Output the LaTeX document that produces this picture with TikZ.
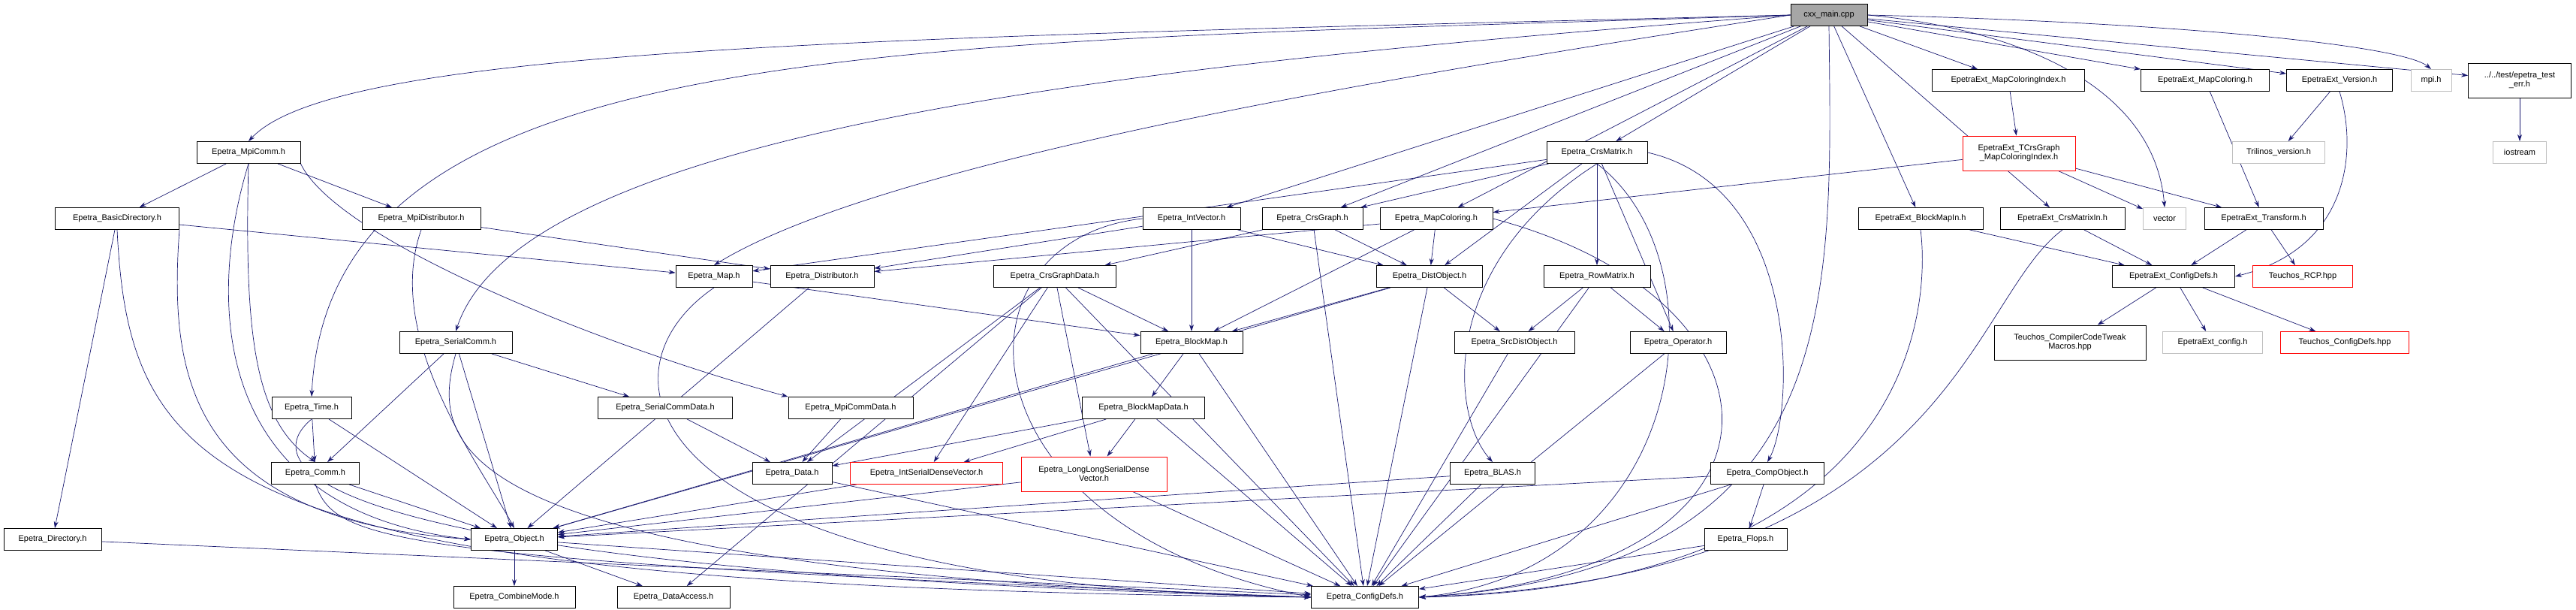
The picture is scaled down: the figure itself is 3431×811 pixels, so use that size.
\documentclass[tikz,border=0pt]{standalone}
\usepackage{fontspec}
\setmainfont{Liberation Sans}
\usetikzlibrary{arrows.meta,backgrounds}
\definecolor{edge}{RGB}{25,25,112}
\definecolor{grayb}{RGB}{191,191,191}
\tikzset{
  box/.style={draw=black,line width=0.9pt,fill=white,inner sep=0pt,minimum height=29pt,font=\fontsize{11}{12}\selectfont,align=center},
  red/.style={box,draw=red},
  ghost/.style={box,draw=grayb},
  root/.style={box,fill=black!35},
  e/.style={draw=edge,line width=0.7pt,-{Stealth[length=9pt,width=6pt]}}
}
\newcommand{\nd}[6][box]{\node[#1,minimum width=#5pt] (#2) at (#3pt,-#4pt) {#6};}
\begin{document}
\begin{tikzpicture}
\useasboundingbox (0,0) rectangle (3431pt,-811pt);
% row 0
\nd[root]{cxx}{2436}{20}{102}{cxx\_main.cpp}
% row 1
\nd{mci}{2675}{107}{203}{EpetraExt\_MapColoringIndex.h}
\nd{emc}{2937}{107}{171}{EpetraExt\_MapColoring.h}
\nd{ver}{3116}{107}{141}{EpetraExt\_Version.h}
\nd[ghost]{mpih}{3238}{107}{54}{mpi.h}
\node[box,minimum width=137pt,minimum height=46pt] (test) at (3356pt,-107pt) {../../test/epetra\_test\\\_err.h};
% row 2
\nd{mpicomm}{331}{203}{138}{Epetra\_MpiComm.h}
\nd{crsm}{2127}{203}{134}{Epetra\_CrsMatrix.h}
\node[red,minimum width=150pt,minimum height=46pt] (tcrs) at (2689pt,-204pt) {EpetraExt\_TCrsGraph\\\_MapColoringIndex.h};
\nd[ghost]{tril}{3035}{203}{123}{Trilinos\_version.h}
\nd[ghost]{ios}{3356}{203}{71}{iostream}
% row 3
\nd{bdir}{156}{291}{165}{Epetra\_BasicDirectory.h}
\nd{mpid}{561}{291}{158}{Epetra\_MpiDistributor.h}
\nd{intv}{1587}{291}{130}{Epetra\_IntVector.h}
\nd{crsg}{1748}{291}{134}{Epetra\_CrsGraph.h}
\nd{mapc}{1913}{291}{150}{Epetra\_MapColoring.h}
\nd{bmin}{2558}{291}{166}{EpetraExt\_BlockMapIn.h}
\nd{cmin}{2747}{291}{166}{EpetraExt\_CrsMatrixIn.h}
\nd[ghost]{vec}{2883}{291}{57}{vector}
\nd{trans}{3015}{291}{158}{EpetraExt\_Transform.h}
% row 4
\nd{map}{951}{368}{102}{Epetra\_Map.h}
\nd{dist}{1095}{368}{138}{Epetra\_Distributor.h}
\nd{cgd}{1405}{368}{163}{Epetra\_CrsGraphData.h}
\nd{dobj}{1904}{368}{141}{Epetra\_DistObject.h}
\nd{rowm}{2127}{368}{142}{Epetra\_RowMatrix.h}
\nd{xcfg}{2895}{368}{163}{EpetraExt\_ConfigDefs.h}
\nd[red]{rcp}{3067}{368}{133}{Teuchos\_RCP.hpp}
% row 5
\nd{scomm}{607}{456}{150}{Epetra\_SerialComm.h}
\nd{bmap}{1587}{456}{136}{Epetra\_BlockMap.h}
\nd{sdo}{2017}{456}{160}{Epetra\_SrcDistObject.h}
\nd{op}{2235}{456}{128}{Epetra\_Operator.h}
\node[box,minimum width=202pt,minimum height=46pt] (tweak) at (2757pt,-456pt) {Teuchos\_CompilerCodeTweak\\Macros.hpp};
\nd[ghost]{xconf}{2947}{456}{133}{EpetraExt\_config.h}
\nd[red]{tcfg}{3123}{456}{171}{Teuchos\_ConfigDefs.hpp}
% row 6
\nd{time}{415}{543}{106}{Epetra\_Time.h}
\nd{scd}{886}{543}{179}{Epetra\_SerialCommData.h}
\nd{mcd}{1133}{543}{166}{Epetra\_MpiCommData.h}
\nd{bmd}{1523}{543}{163}{Epetra\_BlockMapData.h}
% row 7
\nd{comm}{420}{630}{117}{Epetra\_Comm.h}
\nd{data}{1055}{630}{106}{Epetra\_Data.h}
\nd[red]{isdv}{1234}{630}{203}{Epetra\_IntSerialDenseVector.h}
\node[red,minimum width=194pt,minimum height=46pt] (llsdv) at (1457pt,-631pt) {Epetra\_LongLongSerialDense\\Vector.h};
\nd{blas}{1988}{630}{113}{Epetra\_BLAS.h}
\nd{cobj}{2354}{630}{151}{Epetra\_CompObject.h}
% row 8
\nd{dir}{70}{718}{130}{Epetra\_Directory.h}
\nd{obj}{685}{718}{115}{Epetra\_Object.h}
\nd{flops}{2325}{718}{110}{Epetra\_Flops.h}
% row 9
\nd{comb}{685}{795}{162}{Epetra\_CombineMode.h}
\nd{dacc}{897}{795}{150}{Epetra\_DataAccess.h}
\nd{cfg}{1818}{795}{143}{Epetra\_ConfigDefs.h}

\begin{scope}[on background layer]
\foreach \a/\b in {cxx/mci,cxx/emc,cxx/ver,cxx/test,cxx/crsm,cxx/intv,cxx/crsg,cxx/mapc,cxx/bmin,cxx/cmin,
  mci/tcrs,tcrs/vec,tcrs/trans,emc/trans,ver/tril,test/ios,
  mpicomm/bdir,mpicomm/mpid,
  bdir/map,bdir/dir,mpid/dist,
  map/bmap,dist/obj,scomm/comm,scomm/obj,scomm/scd,
  time/comm,time/obj,scd/data,mcd/data,comm/obj,data/cfg,dir/cfg,
  obj/comb,obj/dacc,obj/cfg,
  intv/dist,intv/bmap,intv/dobj,
  crsg/cgd,crsg/dobj,crsg/cfg,mapc/dist,mapc/dobj,mapc/bmap,tcrs/mapc,
  crsm/map,crsm/crsg,crsm/dobj,crsm/rowm,crsm/op,
  cgd/bmap,cgd/cfg,cgd/data,cgd/isdv,cgd/llsdv,cgd/dacc,
  dobj/bmap,dobj/sdo,dobj/obj,dobj/cfg,rowm/sdo,rowm/op,rowm/cfg,
  bmap/bmd,bmap/obj,bmap/cfg,sdo/cfg,op/cfg,
  bmd/data,bmd/isdv,bmd/llsdv,bmd/cfg,isdv/obj,llsdv/obj,llsdv/cfg,
  blas/obj,blas/cfg,cobj/obj,cobj/flops,cobj/cfg,flops/cfg,
  bmin/xcfg,cmin/xcfg,trans/xcfg,trans/rcp,
  xcfg/tweak,xcfg/xconf,xcfg/tcfg}
  {\draw[e] (\a) -- (\b);}
\draw[e] (cxx.west) .. controls (1200pt,-50pt) and (450pt,-60pt) .. (mpicomm.north);
\draw[e] (cxx.west) .. controls (1200pt,-60pt) and (440pt,-40pt) .. (time.north);
\draw[e] (cxx.west) .. controls (1600pt,-80pt) and (700pt,-160pt) .. (scomm.north);
\draw[e] (cxx.west) .. controls (2000pt,-80pt) and (1200pt,-200pt) .. (map.north);
\draw[e] (cxx.east) .. controls (2700pt,-40pt) and (2870pt,-120pt) .. (vec.north);
\draw[e] (cxx.east) .. controls (2900pt,-30pt) and (3200pt,-60pt) .. (mpih.north);
\draw[e] (cxx.south) .. controls (2440pt,-400pt) and (2460pt,-760pt) .. (cfg.east);
\draw[e] (ver.south) .. controls (3140pt,-200pt) and (3130pt,-330pt) .. (xcfg.east);
\draw[e] (mpicomm.south east) .. controls (450pt,-320pt) and (800pt,-460pt) .. (mcd.north west);
\draw[e] (bdir.south) .. controls (173pt,-650pt) and (300pt,-780pt) .. (cfg.west);
\draw[e] (bdir.south east) .. controls (225pt,-500pt) and (250pt,-690pt) .. (obj.west);
\draw[e] (mpicomm.south) .. controls (275pt,-400pt) and (280pt,-680pt) .. (obj.west);
\draw[e] (mpicomm.south) .. controls (325pt,-450pt) and (340pt,-560pt) .. (comm.north);
\draw[e] (time.south) .. controls (340pt,-620pt) and (400pt,-760pt) .. (cfg.west);
\draw[e] (comm.south) .. controls (450pt,-720pt) and (500pt,-745pt) .. (cfg.west);
\draw[e] (scomm.south) .. controls (570pt,-600pt) and (600pt,-760pt) .. (cfg.west);
\draw[e] (mpid.south) .. controls (510pt,-450pt) and (640pt,-620pt) .. (obj.north);
\draw[e] (map.south) .. controls (780pt,-500pt) and (850pt,-780pt) .. (cfg.west);
\draw[e] (intv.west) .. controls (1260pt,-320pt) and (1270pt,-700pt) .. (cfg.west);
\draw[e] (crsm.south) .. controls (2300pt,-350pt) and (2250pt,-760pt) .. (cfg.east);
\draw[e] (crsm.east) .. controls (2400pt,-250pt) and (2390pt,-550pt) .. (cobj.north);
\draw[e] (crsm.south) .. controls (1919pt,-350pt) and (1930pt,-550pt) .. (blas.north);
\draw[e] (mapc.east) .. controls (2400pt,-400pt) and (2420pt,-760pt) .. (cfg.east);
\draw[e] (cmin.south) .. controls (2620pt,-400pt) and (2600pt,-770pt) .. (cfg.east);
\draw[e] (bmin.south) .. controls (2570pt,-400pt) and (2560pt,-780pt) .. (cfg.east);
\end{scope}
\end{tikzpicture}
\end{document}
